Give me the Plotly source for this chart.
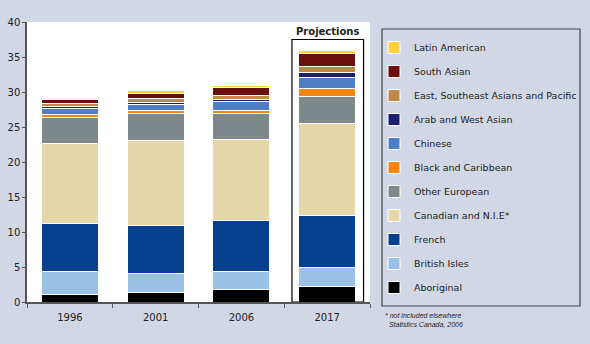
import plotly.graph_objects as go

years = ["1996", "2001", "2006", "2017"]
groups = ["Aboriginal", "British Isles", "French", "Canadian and N.I.E*", "Other European",
          "Black and Caribbean", "Chinese", "Arab and West Asian",
          "East, Southeast Asians and Pacific", "South Asian", "Latin American"]
values = {
    "Aboriginal":                         [1.1, 1.3, 1.75, 2.2],
    "British Isles":                      [3.3, 2.8, 2.55, 2.8],
    "French":                             [6.8, 6.9, 7.4, 7.3],
    "Canadian and N.I.E*":                [11.5, 12.1, 11.5, 13.2],
    "Other European":                     [3.6, 3.8, 3.7, 3.9],
    "Black and Caribbean":                [0.5, 0.5, 0.5, 1.1],
    "Chinese":                            [0.9, 0.85, 1.2, 1.6],
    "Arab and West Asian":                [0.2, 0.3, 0.4, 0.7],
    "East, Southeast Asians and Pacific": [0.5, 0.5, 0.55, 0.8],
    "South Asian":                        [0.6, 0.8, 1.1, 1.9],
    "Latin American":                     [0.1, 0.3, 0.3, 0.4],
}
colors = {
    "Aboriginal": "#000000",
    "British Isles": "#99C1E6",
    "French": "#053F8E",
    "Canadian and N.I.E*": "#E5D7A9",
    "Other European": "#7E898C",
    "Black and Caribbean": "#F6850E",
    "Chinese": "#4E7EC6",
    "Arab and West Asian": "#1C1F6C",
    "East, Southeast Asians and Pacific": "#C0894A",
    "South Asian": "#6A0E0E",
    "Latin American": "#FFD040",
}
y_ticks = [0, 5, 10, 15, 20, 25, 30, 35, 40]
bg = "#D1D7E5"
font = "DejaVu Sans"

fig = go.Figure()
for i, g in enumerate(groups):
    fig.add_trace(go.Bar(
        x=years, y=values[g], name=g, legendgroup=str(i), legendrank=100 - i,
        marker=dict(color=colors[g], line=dict(color="white", width=1)),
        width=0.665,
    ))

fig.update_layout(
    barmode="stack",
    width=590, height=344,
    margin=dict(l=27, r=220, t=22, b=42, autoexpand=False),
    paper_bgcolor=bg, plot_bgcolor="white",
    font=dict(family=font, size=10, color="#222"),
    showlegend=True,
    legend=dict(
        traceorder="grouped", tracegroupgap=5,
        x=(374 - 27) / 343, xanchor="left", y=(302 - 33) / 280, yanchor="top",
        bgcolor="rgba(0,0,0,0)", borderwidth=0,
        font=dict(family=font, size=9.5, color="#222"),
    ),
    xaxis=dict(
        type="category", range=[-0.5, 3.5],
        showline=True, linecolor="#555", linewidth=1.5,
        ticks="outside", tickson="boundaries", ticklen=4, tickcolor="#555",
        ticklabelstandoff=5,
        tickfont=dict(size=10, color="#222"), showgrid=False,
    ),
    yaxis=dict(
        range=[0, 40], tickvals=y_ticks, showgrid=False, zeroline=False,
        showline=True, linecolor="#555", linewidth=1.5,
        ticks="outside", ticklen=3, tickcolor="#555",
        tickfont=dict(size=10, color="#222"),
    ),
    shapes=[
        dict(type="rect", xref="x", yref="y", x0=2.59, x1=3.425, y0=0, y1=37.5,
             line=dict(color="black", width=1.2)),
        dict(type="rect", xref="paper", yref="paper",
             x0=(382 - 27) / 343, x1=(580 - 27) / 343,
             y0=(302 - 306) / 280, y1=(302 - 29) / 280,
             line=dict(color="#444", width=1.2)),
    ],
    annotations=[
        dict(x=3, y=37.6, xref="x", yref="y", text="<b>Projections</b>", showarrow=False,
             yanchor="bottom", font=dict(size=10, color="#222")),
        dict(x=(383 - 27) / 343, y=(302 - 310) / 280, xref="paper", yref="paper",
             xanchor="left", yanchor="top", align="left", showarrow=False,
             text="<i>* not included elsewhere<br>  Statistics Canada, 2006</i>",
             font=dict(family="Liberation Sans Narrow, Liberation Sans", size=7, color="#222")),
    ],
)

fig.write_html("out.html")
